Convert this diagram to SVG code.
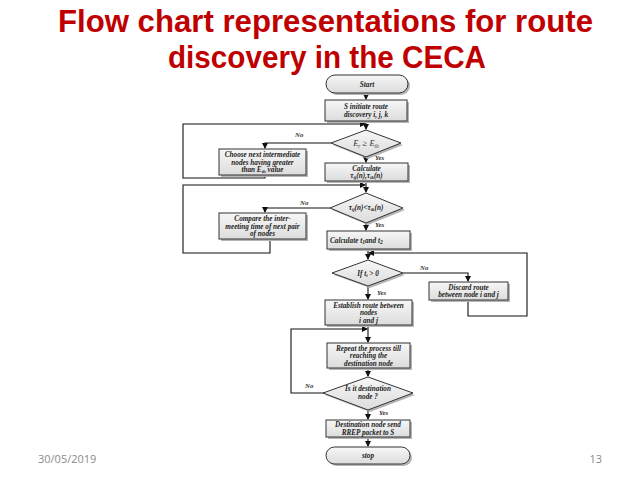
<svg xmlns="http://www.w3.org/2000/svg" width="638" height="478" viewBox="0 0 638 478">
<defs>
<linearGradient id="g" x1="0" y1="0" x2="0" y2="1"><stop offset="0" stop-color="#f7f7f7"/><stop offset="1" stop-color="#dcdcdc"/></linearGradient>
<marker id="ah" markerWidth="6" markerHeight="6" refX="5" refY="3" orient="auto" markerUnits="userSpaceOnUse"><path d="M0,0 L6,3 L0,6 z" fill="#111"/></marker>
</defs>
<style>
.t{font-family:"Liberation Sans","Open Sans",sans-serif;font-weight:bold;fill:#C00000;font-size:31px}
.f{font-family:"Open Sans","Liberation Sans",sans-serif;fill:#8a8a8a;font-size:11px}
.b{fill:url(#g);stroke:#333;stroke-width:1}
.s{fill:#b5b5b5}
.x{font-family:"Liberation Serif",serif;font-weight:bold;font-style:italic;font-size:7.2px;fill:#222;text-anchor:middle}
.xs{font-family:"Liberation Serif",serif;font-weight:bold;font-style:italic;font-size:7.2px;fill:#222;text-anchor:start}
.m{font-family:"Liberation Serif",serif;font-style:italic;font-size:8.5px;fill:#333;text-anchor:middle}
.l{font-family:"Liberation Serif",serif;font-weight:bold;font-style:italic;font-size:6.8px;fill:#333}
.c{fill:none;stroke:#111;stroke-width:1.1}
</style>
<rect width="638" height="478" fill="#fff"/>
<g id="title">
<text class="t" x="325.5" y="32" text-anchor="middle" textLength="535" lengthAdjust="spacingAndGlyphs">Flow chart representations for route</text>
<text class="t" x="327" y="68" text-anchor="middle" textLength="318" lengthAdjust="spacingAndGlyphs">discovery in the CECA</text>
</g>
<g id="footer">
<text class="f" x="38" y="463">30/05/2019</text>
<text class="f" x="602" y="463" text-anchor="end">13</text>
</g>
<g id="connectors">
<path class="c" d="M366,93 V99" marker-end="url(#ah)"/>
<path class="c" d="M366,121 V129" marker-end="url(#ah)"/>
<path class="c" d="M331,143 H265 V148" marker-end="url(#ah)"/>
<path class="c" d="M265,175 V178 H183 V124 H365" marker-end="url(#ah)"/>
<path class="c" d="M366,157 V162" marker-end="url(#ah)"/>
<path class="c" d="M366,181 V192" marker-end="url(#ah)"/>
<path class="c" d="M330,208 H265 V212" marker-end="url(#ah)"/>
<path class="c" d="M270,239 V253 H183 V185 H365" marker-end="url(#ah)"/>
<path class="c" d="M366,223 V230" marker-end="url(#ah)"/>
<path class="c" d="M368,249 V259" marker-end="url(#ah)"/>
<path class="c" d="M403,273 H468 V281" marker-end="url(#ah)"/>
<path class="c" d="M468,300 V316 H527 V253 H369" marker-end="url(#ah)"/>
<path class="c" d="M368,286 V299" marker-end="url(#ah)"/>
<path class="c" d="M368,325 V342" marker-end="url(#ah)"/>
<path class="c" d="M324,393 H291 V329 H367" marker-end="url(#ah)"/>
<path class="c" d="M368,368 V376" marker-end="url(#ah)"/>
<path class="c" d="M368,410 V419" marker-end="url(#ah)"/>
<path class="c" d="M368,437 V446" marker-end="url(#ah)"/>
<text class="l" x="295" y="137">No</text>
<text class="l" x="375" y="160">Yes</text>
<text class="l" x="300" y="205">No</text>
<text class="l" x="375" y="227">Yes</text>
<text class="l" x="420" y="270">No</text>
<text class="l" x="377" y="295">Yes</text>
<text class="l" x="305" y="388">No</text>
<text class="l" x="379" y="415">Yes</text>
</g>
<g id="start">
<rect class="s" x="328" y="77" width="82" height="18" rx="9"/>
<rect class="b" x="326" y="75" width="82" height="18" rx="9"/>
<text class="x" x="367" y="86.5">Start</text>
</g>
<g id="initiate">
<rect class="s" x="327" y="102" width="82" height="21"/>
<rect class="b" x="325" y="100" width="82" height="21"/>
<text class="x" x="366" y="109">S initiate route</text>
<text class="x" x="366" y="116.8">discovery i, j, k</text>
</g>
<g id="energy-check">
<path class="s" d="M368,132 L403,145 L368,159 L333,145 z"/>
<path class="b" d="M366,130 L401,143 L366,157 L331,143 z"/>
<text class="m" x="366" y="146">E<tspan font-size="5.5" dy="1.5">r</tspan><tspan dy="-1.5"> ≥ E</tspan><tspan font-size="5.5" dy="1.5">th</tspan></text>
</g>
<g id="choose">
<rect class="s" x="221" y="151" width="87" height="26"/>
<rect class="b" x="219" y="149" width="87" height="26"/>
<text class="x" x="262.5" y="157">Choose next intermediate</text>
<text class="x" x="262.5" y="164.5">nodes having greater</text>
<text class="x" x="262.5" y="172">than E<tspan font-size="5" dy="1.2">th</tspan><tspan dy="-1.2"> value</tspan></text>
</g>
<g id="calculate-tau">
<rect class="s" x="327" y="165" width="83" height="18"/>
<rect class="b" x="325" y="163" width="83" height="18"/>
<text class="x" x="366.5" y="170.5">Calculate</text>
<text class="x" x="366.5" y="178">τ<tspan font-size="5" dy="1">ij</tspan><tspan dy="-1">(n),τ</tspan><tspan font-size="5" dy="1">ik</tspan><tspan dy="-1">(n)</tspan></text>
</g>
<g id="tau-check">
<path class="s" d="M368,195 L405,210 L368,225 L332,210 z"/>
<path class="b" d="M366,193 L403,208 L366,223 L330,208 z"/>
<text class="x" x="366" y="210">τ<tspan font-size="5" dy="1">ij</tspan><tspan dy="-1">(n)&lt;τ</tspan><tspan font-size="5" dy="1">ik</tspan><tspan dy="-1">(n)</tspan></text>
</g>
<g id="compare">
<rect class="s" x="221" y="215" width="87" height="26"/>
<rect class="b" x="219" y="213" width="87" height="26"/>
<text class="x" x="262.5" y="221">Compare the inter-</text>
<text class="x" x="262.5" y="228.5">meeting time of next pair</text>
<text class="x" x="262.5" y="236">of nodes</text>
</g>
<g id="calculate-t">
<rect class="s" x="329" y="233" width="83" height="18"/>
<rect class="b" x="327" y="231" width="83" height="18"/>
<text class="xs" x="330" y="242.5">Calculate t<tspan font-size="5.5" dy="1">1</tspan><tspan dy="-1">and  t</tspan><tspan font-size="5.5" dy="1">2</tspan></text>
</g>
<g id="t-check">
<path class="s" d="M370,262 L405,275 L370,288 L334,275 z"/>
<path class="b" d="M368,260 L403,273 L368,286 L332,273 z"/>
<text class="x" x="368" y="275.5">If  t<tspan font-size="5" dy="1">i</tspan><tspan dy="-1"> &gt; 0</tspan></text>
</g>
<g id="discard">
<rect class="s" x="431" y="284" width="79" height="18"/>
<rect class="b" x="429" y="282" width="79" height="18"/>
<text class="x" x="468.5" y="289.5">Discard route</text>
<text class="x" x="468.5" y="297">between node i and j</text>
</g>
<g id="establish">
<rect class="s" x="327" y="302" width="87" height="25"/>
<rect class="b" x="325" y="300" width="87" height="25"/>
<text class="x" x="368.5" y="307.5">Establish route between</text>
<text class="x" x="368.5" y="315">nodes</text>
<text class="x" x="368.5" y="322.5">i and j</text>
</g>
<g id="repeat">
<rect class="s" x="329" y="345" width="83" height="25"/>
<rect class="b" x="327" y="343" width="83" height="25"/>
<text class="x" x="368.5" y="350.5">Repeat the process till</text>
<text class="x" x="368.5" y="358">reaching the</text>
<text class="x" x="368.5" y="365.5">destination node</text>
</g>
<g id="destination-check">
<path class="s" d="M370,379 L415,395 L370,412 L325,395 z"/>
<path class="b" d="M368,377 L413,393 L368,410 L323,393 z"/>
<text class="x" x="368" y="391">Is it destination</text>
<text class="x" x="368" y="398.5">node ?</text>
</g>
<g id="destination">
<rect class="s" x="328" y="422" width="84" height="17"/>
<rect class="b" x="326" y="420" width="84" height="17"/>
<text class="x" x="368" y="427">Destination node send</text>
<text class="x" x="368" y="434.5">RREP packet to S</text>
</g>
<g id="stop">
<rect class="s" x="328" y="449" width="84" height="17" rx="8.5"/>
<rect class="b" x="326" y="447" width="84" height="17" rx="8.5"/>
<text class="x" x="368" y="458">stop</text>
</g>
</svg>
